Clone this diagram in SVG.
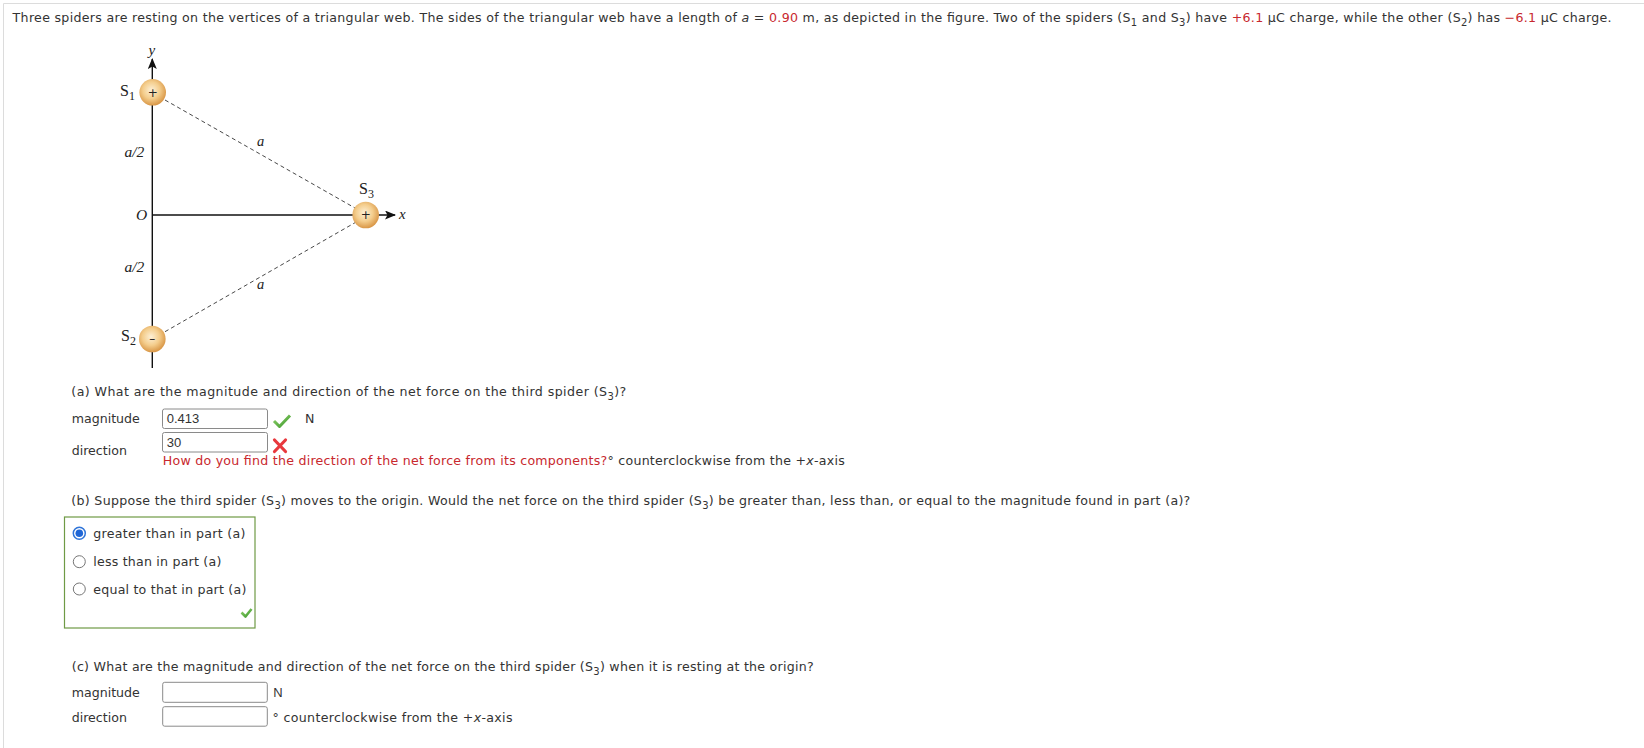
<svg xmlns="http://www.w3.org/2000/svg" width="1644" height="748" viewBox="0 0 1644 748">
<style>
.t{font-family:"DejaVu Sans",Verdana,sans-serif;font-size:12.6px;fill:#333}
.r{fill:#c8282e}
.f{font-family:"Liberation Serif","Times New Roman",serif;fill:#222}
.it{font-style:italic}
.box{fill:#fff;stroke:#8a8a8a;stroke-width:1}
.ax{stroke:#111;stroke-width:1.4;fill:none}
.dash{stroke:#333;stroke-width:0.9;stroke-dasharray:4 3;fill:none}
.rad{fill:#fff;stroke:#777;stroke-width:1}
.sg{font-family:"DejaVu Sans",sans-serif;fill:#222;font-size:12px}
</style>
<defs>
<radialGradient id="sph" cx="45%" cy="42%" r="58%">
<stop offset="0" stop-color="#fdf0d6"/>
<stop offset="0.55" stop-color="#f4cd8c"/>
<stop offset="1" stop-color="#d99747"/>
</radialGradient>
<marker id="ah" markerWidth="11" markerHeight="9" refX="10" refY="4.5" orient="auto" markerUnits="userSpaceOnUse">
<path d="M0,0 L11,4.5 L0,9 L2.5,4.5 z" fill="#111"/>
</marker>
<linearGradient id="chk" x1="0" y1="0" x2="1" y2="1">
<stop offset="0" stop-color="#8fd06a"/>
<stop offset="1" stop-color="#3f9a2e"/>
</linearGradient>
</defs>
<rect width="1644" height="748" fill="#fff"/>
<path d="M3.5,748 V3.5 H1644" fill="none" stroke="#dcdcdc" stroke-width="1"/>

<text class="t" x="12.6" y="22" textLength="1599" lengthAdjust="spacing">Three spiders are resting on the vertices of a triangular web. The sides of the triangular web have a length of <tspan class="it">a</tspan> = <tspan class="r">0.90</tspan> m, as depicted in the figure. Two of the spiders (S<tspan dy="4" font-size="10">1</tspan><tspan dy="-4"> and S</tspan><tspan dy="4" font-size="10">3</tspan><tspan dy="-4">) have </tspan><tspan class="r">+6.1</tspan> μC charge, while the other (S<tspan dy="4" font-size="10">2</tspan><tspan dy="-4">) has </tspan><tspan class="r">−6.1</tspan> μC charge.</text>

<g id="axes">
<line class="ax" x1="152.3" y1="368" x2="152.3" y2="59" marker-end="url(#ah)"/>
<line class="ax" x1="152.3" y1="215" x2="395" y2="215" marker-end="url(#ah)"/>
<text class="f it" x="148.5" y="55" font-size="15">y</text>
<text class="f it" x="399" y="219" font-size="15">x</text>
<text class="f it" x="136" y="219.5" font-size="15.5">O</text>
<text class="f it" x="124.5" y="157" font-size="15.5">a/2</text>
<text class="f it" x="124.5" y="272" font-size="15.5">a/2</text>
</g>
<g id="connectors">
<line class="dash" x1="165" y1="100" x2="355" y2="208"/>
<line class="dash" x1="165" y1="331.7" x2="355" y2="222.7"/>
<text class="f it" x="257" y="146" font-size="14.5">a</text>
<text class="f it" x="257" y="289" font-size="14.5">a</text>
</g>
<g id="s1">
<circle cx="152.7" cy="92.3" r="13.3" fill="url(#sph)"/>
<text class="sg" x="152.7" y="96.6" text-anchor="middle">+</text>
<text class="f" x="120" y="96" font-size="16">S<tspan dy="4" font-size="12">1</tspan></text>
</g>
<g id="s2">
<circle cx="152.3" cy="339" r="13.3" fill="url(#sph)"/>
<text class="sg" x="152.3" y="343.2" text-anchor="middle">–</text>
<text class="f" x="121" y="341" font-size="16">S<tspan dy="4" font-size="12">2</tspan></text>
</g>
<g id="s3">
<circle cx="365.7" cy="215" r="13.3" fill="url(#sph)"/>
<text class="sg" x="365.7" y="219.3" text-anchor="middle">+</text>
<text class="f" x="359" y="194" font-size="16">S<tspan dy="4" font-size="12">3</tspan></text>
</g>

<g id="partA">
<text class="t" x="71.3" y="396" textLength="555" lengthAdjust="spacing">(a) What are the magnitude and direction of the net force on the third spider (S<tspan dy="4" font-size="10">3</tspan><tspan dy="-4">)?</tspan></text>
<text class="t" x="71.7" y="423">magnitude</text>
<rect class="box" x="162.5" y="409" width="105" height="19.5" rx="2"/>
<text class="t" x="166.7" y="423" style="font-family:'Liberation Sans',Arial,sans-serif;font-size:13px">0.413</text>
<path d="M274,421 L279.5,426.5 L290,415.5" fill="none" stroke="url(#chk)" stroke-width="3" stroke-linejoin="round"/>
<text class="t" x="305" y="423">N</text>
<text class="t" x="71.7" y="455">direction</text>
<rect class="box" x="162.5" y="432.5" width="105" height="19.5" rx="2"/>
<text class="t" x="166.7" y="447" style="font-family:'Liberation Sans',Arial,sans-serif;font-size:13px">30</text>
<path d="M274.5,440 L285.5,451.5 M285.5,440 L274.5,451.5" fill="none" stroke="#e8383d" stroke-width="3.2" stroke-linecap="round"/>
<text class="t" x="162.7" y="465" textLength="682" lengthAdjust="spacing"><tspan class="r">How do you find the direction of the net force from its components?</tspan>° counterclockwise from the +<tspan class="it">x</tspan>-axis</text>
</g>

<g id="partB">
<text class="t" x="71.3" y="505" textLength="1119" lengthAdjust="spacing">(b) Suppose the third spider (S<tspan dy="4" font-size="10">3</tspan><tspan dy="-4">) moves to the origin. Would the net force on the third spider (S</tspan><tspan dy="4" font-size="10">3</tspan><tspan dy="-4">) be greater than, less than, or equal to the magnitude found in part (a)?</tspan></text>
<rect x="64.5" y="517" width="190.5" height="111" fill="#fff" stroke="#6f9a45" stroke-width="1.2"/>
<circle cx="79.3" cy="533.3" r="6" fill="#fff" stroke="#2f74d8" stroke-width="1.5"/>
<circle cx="79.3" cy="533.3" r="3.8" fill="#1f66d6"/>
<text class="t" x="93.3" y="538" textLength="152" lengthAdjust="spacing">greater than in part (a)</text>
<circle class="rad" cx="79.3" cy="561.7" r="6"/>
<text class="t" x="93.3" y="566" textLength="128" lengthAdjust="spacing">less than in part (a)</text>
<circle class="rad" cx="79.3" cy="589" r="6"/>
<text class="t" x="93.3" y="593.5" textLength="153" lengthAdjust="spacing">equal to that in part (a)</text>
<path d="M241.5,612.5 L245.5,616.5 L251.5,609" fill="none" stroke="url(#chk)" stroke-width="2.6" stroke-linejoin="round"/>
</g>

<g id="partC">
<text class="t" x="71.7" y="670.5" textLength="742" lengthAdjust="spacing">(c) What are the magnitude and direction of the net force on the third spider (S<tspan dy="4" font-size="10">3</tspan><tspan dy="-4">) when it is resting at the origin?</tspan></text>
<text class="t" x="71.7" y="696.5">magnitude</text>
<rect class="box" x="162.7" y="682.3" width="104.6" height="20" rx="2"/>
<text class="t" x="273.3" y="696.5" style="font-family:'Liberation Sans',Arial,sans-serif;font-size:13px">N</text>
<text class="t" x="71.7" y="721.5">direction</text>
<rect class="box" x="162.7" y="706.7" width="104.6" height="19.5" rx="2"/>
<text class="t" x="272.5" y="721.5" textLength="240" lengthAdjust="spacing">° counterclockwise from the +<tspan class="it">x</tspan>-axis</text>
</g>
</svg>
